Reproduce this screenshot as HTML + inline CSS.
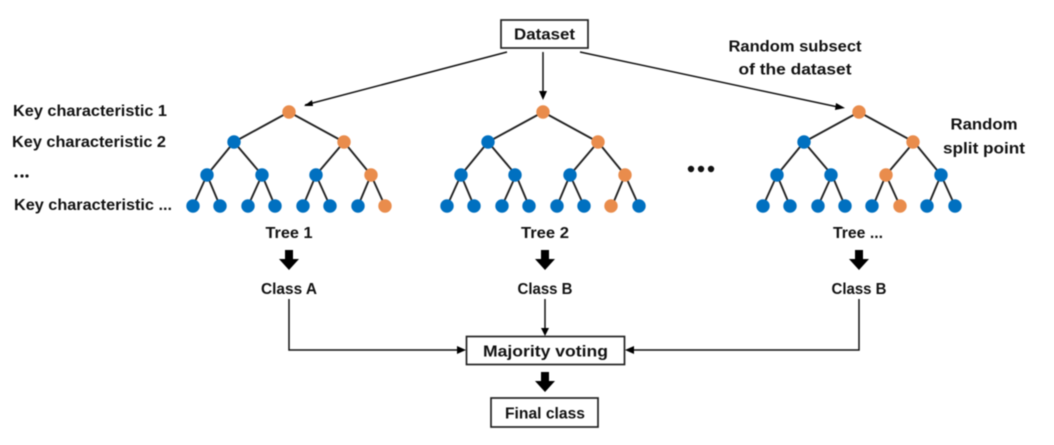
<!DOCTYPE html>
<html><head><meta charset="utf-8"><style>
html,body{margin:0;padding:0;background:#fff;width:1054px;height:445px;overflow:hidden}
svg{display:block;filter:blur(.45px)}
text{font-family:"Liberation Sans",sans-serif;font-weight:700;font-size:15.5px;fill:#111;text-anchor:middle}
.l{text-anchor:start}
.e{stroke:#222;stroke-width:1.9;fill:none}
.c{stroke:#111;stroke-width:1.5;fill:none}
.b{fill:#0070c0}.o{fill:#e98c4c}
.box{fill:#fff;stroke:#222;stroke-width:1.7}
</style></head><body>
<svg width="1054" height="445" viewBox="0 0 1054 445" xmlns="http://www.w3.org/2000/svg">
<defs>
<g id="edges">
<path class="e" d="M289 112L234 142M289 112L344 142M234 142L207 175M234 142L262 175M344 142L316 175M344 142L371 175M207 175L193 206M207 175L220 206M262 175L248 206M262 175L275 206M316 175L303 206M316 175L330 206M371 175L358 206M371 175L385 206"/>
</g>
<polygon id="big" points="-4,0 4,0 4,9 10,9 0,20 -10,9 -4,9" fill="#000"/>
</defs>

<rect class="box" x="501" y="20" width="87" height="28"/>
<text x="544.500" y="39.500" textLength="61" lengthAdjust="spacingAndGlyphs">Dataset</text>

<path class="c" d="M507 52L305 105"/><polygon points="304,106 312,100 313,106" fill="#000"/>
<path class="c" d="M543 52V92"/><polygon points="543,100 539,91 547,91" fill="#000"/>
<path class="c" d="M580 52L838 107"/><polygon points="845,108 836,103 835,110" fill="#000"/>

<text x="795" y="51.500" textLength="133" lengthAdjust="spacingAndGlyphs">Random subsect</text>
<text x="795" y="74.500" textLength="113" lengthAdjust="spacingAndGlyphs">of the dataset</text>
<text x="984" y="129.500" textLength="67" lengthAdjust="spacingAndGlyphs">Random</text>
<text x="984" y="153.500" textLength="82" lengthAdjust="spacingAndGlyphs">split point</text>

<text class="l" x="13" y="116" textLength="154" lengthAdjust="spacingAndGlyphs">Key characteristic 1</text>
<text class="l" x="12" y="147" textLength="154" lengthAdjust="spacingAndGlyphs">Key characteristic 2</text>
<circle cx="16" cy="176" r="1.6" fill="#111"/><circle cx="22" cy="176" r="1.6" fill="#111"/><circle cx="27" cy="176" r="1.6" fill="#111"/>
<text class="l" x="14" y="210" textLength="158" lengthAdjust="spacingAndGlyphs">Key characteristic ...</text>

<use href="#edges"/>
<use href="#edges" x="254"/>
<use href="#edges" x="570"/>

<g class="b">
<circle cx="234" cy="142" r="6.700"/><circle cx="207" cy="175" r="6.700"/><circle cx="262" cy="175" r="6.700"/><circle cx="316" cy="175" r="6.700"/>
<circle cx="193" cy="206" r="6.700"/><circle cx="220" cy="206" r="6.700"/><circle cx="248" cy="206" r="6.700"/><circle cx="275" cy="206" r="6.700"/><circle cx="303" cy="206" r="6.700"/><circle cx="330" cy="206" r="6.700"/><circle cx="358" cy="206" r="6.700"/>
<circle cx="488" cy="142" r="6.700"/><circle cx="461" cy="175" r="6.700"/><circle cx="515" cy="175" r="6.700"/><circle cx="570" cy="175" r="6.700"/>
<circle cx="447" cy="206" r="6.700"/><circle cx="474" cy="206" r="6.700"/><circle cx="502" cy="206" r="6.700"/><circle cx="529" cy="206" r="6.700"/><circle cx="557" cy="206" r="6.700"/><circle cx="584" cy="206" r="6.700"/><circle cx="639" cy="206" r="6.700"/>
<circle cx="804" cy="142" r="6.700"/><circle cx="777" cy="175" r="6.700"/><circle cx="831" cy="175" r="6.700"/><circle cx="941" cy="175" r="6.700"/>
<circle cx="763" cy="206" r="6.700"/><circle cx="790" cy="206" r="6.700"/><circle cx="818" cy="206" r="6.700"/><circle cx="845" cy="206" r="6.700"/><circle cx="872" cy="206" r="6.700"/><circle cx="927" cy="206" r="6.700"/><circle cx="955" cy="206" r="6.700"/>
</g>
<g class="o">
<circle cx="289" cy="112" r="6.700"/><circle cx="344" cy="142" r="6.700"/><circle cx="371" cy="175" r="6.700"/><circle cx="385" cy="206" r="6.700"/>
<circle cx="543" cy="112" r="6.700"/><circle cx="598" cy="142" r="6.700"/><circle cx="625" cy="175" r="6.700"/><circle cx="611" cy="206" r="6.700"/>
<circle cx="859" cy="112" r="6.700"/><circle cx="913" cy="142" r="6.700"/><circle cx="886" cy="175" r="6.700"/><circle cx="900" cy="206" r="6.700"/>
</g>

<circle cx="691" cy="169" r="3.200" fill="#111"/><circle cx="701" cy="169" r="3.200" fill="#111"/><circle cx="711" cy="169" r="3.200" fill="#111"/>

<text x="289" y="238" textLength="47" lengthAdjust="spacingAndGlyphs">Tree 1</text>
<text x="545" y="238" textLength="48" lengthAdjust="spacingAndGlyphs">Tree 2</text>
<text x="858" y="238" textLength="50" lengthAdjust="spacingAndGlyphs">Tree ...</text>

<use href="#big" x="289" y="250"/>
<use href="#big" x="545" y="250"/>
<use href="#big" x="859" y="250"/>

<text x="289" y="294" textLength="56" lengthAdjust="spacingAndGlyphs">Class A</text>
<text x="545" y="294" textLength="55" lengthAdjust="spacingAndGlyphs">Class B</text>
<text x="859" y="294" textLength="55" lengthAdjust="spacingAndGlyphs">Class B</text>

<path class="c" d="M289 299V350H460"/><polygon points="466,350 457,346 457,354" fill="#000"/>
<path class="c" d="M545 299V330"/><polygon points="545,336 541,328 549,328" fill="#000"/>
<path class="c" d="M859 299V350H630"/><polygon points="625,350 634,346 634,354" fill="#000"/>

<rect class="box" x="466.500" y="336.500" width="158" height="28"/>
<text x="545.500" y="356.500" textLength="125" lengthAdjust="spacingAndGlyphs">Majority voting</text>

<use href="#big" x="545" y="372"/>

<rect class="box" x="491" y="398" width="107" height="29"/>
<text x="545" y="418.500" textLength="80" lengthAdjust="spacingAndGlyphs">Final class</text>
</svg>
</body></html>
